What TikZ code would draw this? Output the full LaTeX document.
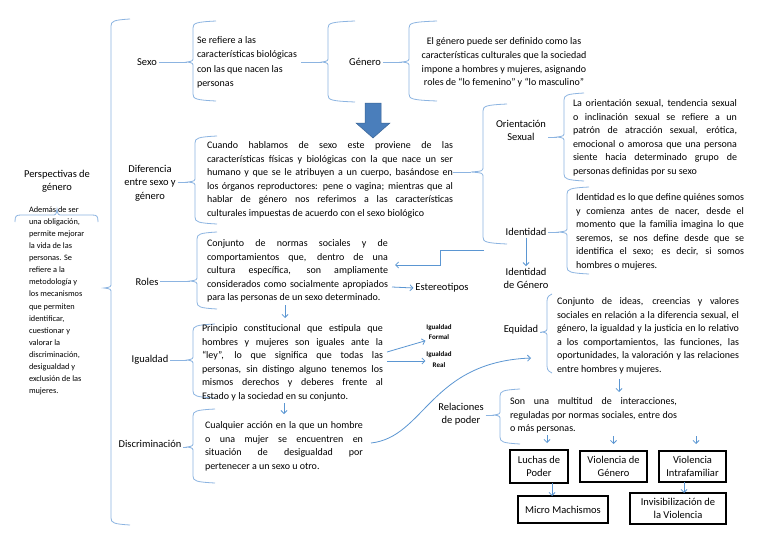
\documentclass[tikz,border=0pt]{standalone}
\usepackage{fontspec}
\setmainfont{Carlito}
\usetikzlibrary{arrows.meta}
\definecolor{brc}{RGB}{140,180,225}
\definecolor{arc}{RGB}{91,150,210}
\definecolor{bigarr}{RGB}{74,126,187}
\newcommand\lbr[7]{% name, x, top, bottom, tipy, armx, depth
  \draw[brc,line width=0.8pt] (#6,#3-1) .. controls (#2+3,#3) and (#2,#3+1) .. (#2,#3+6)
    -- (#2,#5-5) .. controls (#2,#5-1) .. (#2-#7,#5) .. controls (#2,#5+1) .. (#2,#5+5)
    -- (#2,#4-6) .. controls (#2,#4-1) and (#2+3,#4) .. (#6,#4+1);
  \coordinate (#1) at (#2-#7,#5);}
\newcommand\nohyph{\hyphenpenalty=10000\relax\exhyphenpenalty=10000\relax}
\begin{document}
\begin{tikzpicture}[x=1pt,y=-1pt,
  every node/.style={inner sep=0pt,outer sep=0pt},
  lbl/.style={font=\fontsize{10.5}{13.5}\selectfont,align=center,inner sep=2pt},
  body/.style={font=\fontsize{10}{13.5}\selectfont\nohyph,align=justify,anchor=north west},
  tiny/.style={font=\fontsize{7}{10.5}\selectfont\bfseries,align=center,inner sep=1pt},
  con/.style={draw=brc,line width=0.8pt},
  arr/.style={draw=arc,line width=0.8pt,-{Straight Barb[length=3pt,width=6pt]}},
  boxn/.style={draw=black,line width=1.1pt,font=\fontsize{10.5}{13.3}\selectfont,align=center}]
\useasboundingbox (0,0) rectangle (768,543);
\fill[white] (0,0) rectangle (768,543);

% ---------- left column ----------
\node[lbl] (persp) at (57,181.5) {Perspectivas de\\género};
\draw[brc,line width=0.8pt] (15,222) .. controls (15,216) and (16,215) .. (21,215) -- (52,215)
  .. controls (56,215) .. (57,209) .. controls (58,215) .. (62,215) -- (92,215)
  .. controls (97,215) and (98,216) .. (98,222);
\node[font=\fontsize{8.3}{12.1}\selectfont,align=left,anchor=north west] (persptxt) at (29,206.5)
 {Además de ser\\una obligación,\\permite mejorar\\la vida de las\\personas. Se\\refiere a la\\metodología y\\los mecanismos\\que permiten\\identificar,\\cuestionar y\\valorar la\\discriminación,\\desigualdad y\\exclusión de las\\mujeres.};

\lbr{t0}{111}{20}{524}{288}{130}{7}

% ---------- Sexo / Género ----------
\node[lbl] (sexo) at (147,62) {Sexo};
\lbr{t1}{193}{22}{100}{62}{216}{6}
\draw[con] (sexo.east) -- (t1);
\node[font=\fontsize{10}{14.5}\selectfont,align=left,anchor=north west] (sexodef) at (197,36.5)
 {Se refiere a las\\características biológicas\\con las que nacen las\\personas};
\coordinate (c2) at (301,62);
\lbr{t2}{328}{22}{101}{62}{355}{6}
\draw[con] (c2) -- (t2);
\node[lbl] (genero) at (365,62) {Género};
\lbr{t3}{409}{22}{100}{62}{437}{7}
\draw[con] (genero.east) -- (t3);
\node[font=\fontsize{10}{13.8}\selectfont,align=center] (generodef) at (504,62.5)
 {El género puede ser definido como las\\características culturales que la sociedad\\impone a hombres y mujeres, asignando\\roles de “lo femenino” y “lo masculino”};

% big arrow
\filldraw[fill=bigarr,draw=bigarr!80!black,line width=0.5pt]
 (365,103) -- (381,103) -- (381,123) -- (390,123) -- (373,138) -- (356,123) -- (365,123) -- cycle;

% ---------- Diferencia ----------
\node[lbl] (dif) at (150,183) {Diferencia\\entre sexo y\\género};
\lbr{t4}{195}{137}{223}{182}{217}{7}
\draw[con] (dif.east |- t4) -- (t4);
\node[body,text width=246pt] (diftxt) at (207,142)
 {Cuando hablamos de sexo este proviene de las\linebreak
 características físicas y biológicas con la que nace un ser\linebreak
 humano y que se le atribuyen a un cuerpo, basándose en\linebreak
 los órganos reproductores: pene o vagina; mientras que al\linebreak
 hablar de género nos referimos a las características\linebreak
 culturales impuestas de acuerdo con el sexo biológico};
\lbr{t5}{483}{105}{243}{172}{507}{12}
\draw[con] (diftxt.east |- t5) -- (t5);

% ---------- Orientación / Identidad ----------
\node[lbl] (orient) at (521,130.5) {Orientación\\Sexual};
\lbr{t6}{564}{94}{180}{137}{584}{7}
\draw[con] (orient.east |- t6) -- (t6);
\node[body,text width=164pt] (orienttxt) at (573,100)
 {La orientación sexual, tendencia sexual\linebreak
 o inclinación sexual se refiere a un\linebreak
 patrón de atracción sexual, erótica,\linebreak
 emocional o amorosa que una persona\linebreak
 siente hacia determinado grupo de\linebreak
 personas definidas por su sexo};
\node[lbl] (identidad) at (526,232) {Identidad};
\lbr{t7}{567}{188}{273}{232}{589}{8}
\draw[con] (identidad.east) -- (t7);
\node[body,text width=168pt] (identtxt) at (576,194)
 {Identidad es lo que define quiénes somos\linebreak
 y comienza antes de nacer, desde el\linebreak
 momento que la familia imagina lo que\linebreak
 seremos, se nos define desde que se\linebreak
 identifica el sexo; es decir, si somos\linebreak
 hombres o mujeres.};
\node[lbl] (idgen) at (526,278.5) {Identidad\\de Género};
\draw[arr] (identidad.south) -- (idgen.north);

% ---------- Roles ----------
\node[lbl] (roles) at (147,282) {Roles};
\lbr{t8}{197}{233}{308}{281}{217}{7}
\draw[con] (roles.east |- t8) -- (t8);
\node[body,text width=181pt] (rolestxt) at (207,240)
 {Conjunto de normas sociales y de\linebreak
 comportamientos que, dentro de una\linebreak
 cultura específica, son ampliamente\linebreak
 considerados como socialmente apropiados\linebreak
 para las personas de un sexo determinado.};
\coordinate (e0) at (484,250);
\coordinate (e1) at (440,250);
\coordinate (e2) at (440,265);
\coordinate (e3) at (395,265);
\draw[arr] (e0) -- (e1) -- (e2) -- (e3);
\node[lbl] (estereo) at (442,288) {Estereotipos};
\coordinate (r1) at (392,287);
\draw[arr] (r1) -- (estereo.west);
\coordinate (r2) at (285,305);
\coordinate (r3) at (285,318);
\draw[arr] (r2) -- (r3);

% ---------- Igualdad ----------
\node[lbl] (igualdad) at (150,360) {Igualdad};
\lbr{t9}{193}{325}{397}{360}{215}{6}
\draw[con] (igualdad.east) -- (t9);
\node[body,text width=181pt] (igualtxt) at (202,325)
 {Principio constitucional que estipula que\linebreak
 hombres y mujeres son iguales ante la\linebreak
 “ley”, lo que significa que todas las\linebreak
 personas, sin distingo alguno tenemos los\linebreak
 mismos derechos y deberes frente al\linebreak
 Estado y la sociedad en su conjunto.};
\node[tiny] (igformal) at (439,332) {Igualdad\\Formal};
\node[tiny] (igreal) at (439,359.5) {Igualdad\\Real};
\coordinate (g1) at (387,352);
\coordinate (g2) at (387,361);
\draw[arr] (g1) -- (igformal.south west);
\draw[arr] (g2) -- (igreal.west |- g2);
\coordinate (g3) at (284,403);
\coordinate (g4) at (284,414);
\draw[arr] (g3) -- (g4);

% ---------- Discriminación ----------
\node[lbl] (discrim) at (150,444) {Discriminación};
\lbr{t10}{193}{410}{482}{447}{215}{6}
\draw[con] (discrim.east |- t10) -- (t10);
\node[body,text width=158pt] (discrimtxt) at (205,422)
 {Cualquier acción en la que un hombre\linebreak
 o una mujer se encuentren en\linebreak
 situación de desigualdad por\linebreak
 pertenecer a un sexo u otro.};

% ---------- Equidad ----------
\node[lbl] (equidad) at (521,330) {Equidad};
\lbr{t11}{547}{295}{372}{332}{552}{5}
\draw[con] (equidad.east |- t11) -- (t11);
\node[body,text width=182pt] (equidadtxt) at (557,298)
 {Conjunto de ideas, creencias y valores\linebreak
 sociales en relación a la diferencia sexual, el\linebreak
 género, la igualdad y la justicia en lo relativo\linebreak
 a los comportamientos, las funciones, las\linebreak
 oportunidades, la valoración y las relaciones\linebreak
 entre hombres y mujeres.};
\coordinate (d0) at (371,443);
\coordinate (d1) at (531,358);
\draw[arr] (d0) .. controls (425,437) and (430,362) .. (d1);
\coordinate (q0) at (619,379);
\coordinate (q1) at (619,392);
\draw[arr] (q0) -- (q1);

% ---------- Relaciones de poder ----------
\node[lbl] (relac) at (461,414) {Relaciones\\de poder};
\lbr{t12}{500}{390}{443}{415}{520}{6}
\draw[con] (relac.east |- t12) -- (t12);
\node[body,text width=167pt] (reltxt) at (510,398)
 {Son una multitud de interacciones,\linebreak
 reguladas por normas sociales, entre dos\linebreak
 o más personas.};

\node[boxn,minimum width=58pt,minimum height=33pt] (luchas) at (539,466.5) {Luchas de\\Poder};
\node[boxn,minimum width=67pt,minimum height=31pt] (vgen) at (613.5,466.5) {Violencia de\\Género};
\node[boxn,minimum width=67pt,minimum height=31pt] (vintra) at (692.5,466.5) {Violencia\\Intrafamiliar};
\node[boxn,minimum width=90pt,minimum height=27pt] (micro) at (563,509.5) {Micro Machismos};
\node[boxn,minimum width=96pt,minimum height=31pt] (invis) at (678,508.5) {Invisibilización de\\la Violencia};

\draw[arr] (luchas.north -| 547,0) ++(0,-15) -- ++(0,8);
\draw[arr] (vgen.north) ++(0,-15) -- ++(0,8);
\draw[arr] (vintra.north -| 696,0) ++(0,-15) -- ++(0,8);
\draw[arr] (luchas.south -| 552,0) -- (micro.north -| 552,0);
\draw[arr] (vintra.south -| 684,0) -- (invis.north -| 684,0);
\end{tikzpicture}
\end{document}
